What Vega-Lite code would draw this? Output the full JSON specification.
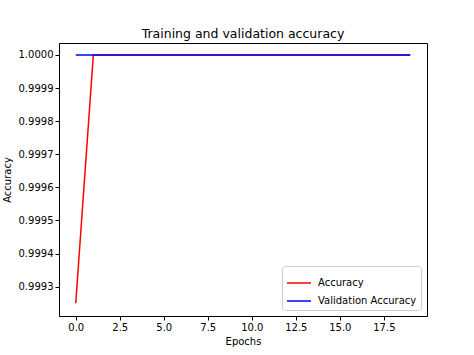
{
  "$schema": "https://vega.github.io/schema/vega-lite/v6.json",
  "autosize": {"type": "none"},
  "width": 368,
  "height": 273,
  "padding": {"left": 59, "top": 43, "right": 47, "bottom": 39},
  "background": "white",
  "title": {"text": "Training and validation accuracy", "font": "DejaVu Sans", "fontSize": 12.5, "fontWeight": "normal", "color": "black", "offset": 3},
  "config": {
    "view": {"stroke": "black", "strokeWidth": 1},
    "axis": {"labelFont": "DejaVu Sans", "titleFont": "DejaVu Sans", "labelFontSize": 10, "titleFontSize": 10, "titleFontWeight": "normal", "labelColor": "black", "titleColor": "black", "tickColor": "black", "domainColor": "black", "grid": false, "tickSize": 4}
  },
  "data": {"values": [
    {"epoch": 0, "value": 0.99925, "series": "Accuracy"},
    {"epoch": 1, "value": 1.0, "series": "Accuracy"},
    {"epoch": 2, "value": 1.0, "series": "Accuracy"},
    {"epoch": 3, "value": 1.0, "series": "Accuracy"},
    {"epoch": 4, "value": 1.0, "series": "Accuracy"},
    {"epoch": 5, "value": 1.0, "series": "Accuracy"},
    {"epoch": 6, "value": 1.0, "series": "Accuracy"},
    {"epoch": 7, "value": 1.0, "series": "Accuracy"},
    {"epoch": 8, "value": 1.0, "series": "Accuracy"},
    {"epoch": 9, "value": 1.0, "series": "Accuracy"},
    {"epoch": 10, "value": 1.0, "series": "Accuracy"},
    {"epoch": 11, "value": 1.0, "series": "Accuracy"},
    {"epoch": 12, "value": 1.0, "series": "Accuracy"},
    {"epoch": 13, "value": 1.0, "series": "Accuracy"},
    {"epoch": 14, "value": 1.0, "series": "Accuracy"},
    {"epoch": 15, "value": 1.0, "series": "Accuracy"},
    {"epoch": 16, "value": 1.0, "series": "Accuracy"},
    {"epoch": 17, "value": 1.0, "series": "Accuracy"},
    {"epoch": 18, "value": 1.0, "series": "Accuracy"},
    {"epoch": 19, "value": 1.0, "series": "Accuracy"},
    {"epoch": 0, "value": 1.0, "series": "Validation Accuracy"},
    {"epoch": 1, "value": 1.0, "series": "Validation Accuracy"},
    {"epoch": 2, "value": 1.0, "series": "Validation Accuracy"},
    {"epoch": 3, "value": 1.0, "series": "Validation Accuracy"},
    {"epoch": 4, "value": 1.0, "series": "Validation Accuracy"},
    {"epoch": 5, "value": 1.0, "series": "Validation Accuracy"},
    {"epoch": 6, "value": 1.0, "series": "Validation Accuracy"},
    {"epoch": 7, "value": 1.0, "series": "Validation Accuracy"},
    {"epoch": 8, "value": 1.0, "series": "Validation Accuracy"},
    {"epoch": 9, "value": 1.0, "series": "Validation Accuracy"},
    {"epoch": 10, "value": 1.0, "series": "Validation Accuracy"},
    {"epoch": 11, "value": 1.0, "series": "Validation Accuracy"},
    {"epoch": 12, "value": 1.0, "series": "Validation Accuracy"},
    {"epoch": 13, "value": 1.0, "series": "Validation Accuracy"},
    {"epoch": 14, "value": 1.0, "series": "Validation Accuracy"},
    {"epoch": 15, "value": 1.0, "series": "Validation Accuracy"},
    {"epoch": 16, "value": 1.0, "series": "Validation Accuracy"},
    {"epoch": 17, "value": 1.0, "series": "Validation Accuracy"},
    {"epoch": 18, "value": 1.0, "series": "Validation Accuracy"},
    {"epoch": 19, "value": 1.0, "series": "Validation Accuracy"}
  ]},
  "mark": {"type": "line", "strokeWidth": 1.5, "clip": true},
  "encoding": {
    "x": {"field": "epoch", "type": "quantitative", "title": "Epochs",
      "scale": {"domain": [-0.95, 19.95], "nice": false, "zero": false},
      "axis": {"values": [0, 2.5, 5, 7.5, 10, 12.5, 15, 17.5], "format": ".1f", "titleY": 20, "labelPadding": 2}},
    "y": {"field": "value", "type": "quantitative", "title": "Accuracy",
      "scale": {"domain": [0.9992115, 1.0000362], "nice": false, "zero": false},
      "axis": {"values": [0.9993, 0.9994, 0.9995, 0.9996, 0.9997, 0.9998, 0.9999, 1.0], "format": ".4f", "titleX": -47, "labelPadding": 2}},
    "color": {"field": "series", "type": "nominal",
      "scale": {"domain": ["Accuracy", "Validation Accuracy"], "range": ["red", "blue"]},
      "legend": {"title": null, "orient": "bottom-right", "offset": 6, "symbolType": "stroke", "symbolSize": 576, "symbolStrokeWidth": 1.5, "labelFont": "DejaVu Sans", "labelFontSize": 10, "labelColor": "black", "strokeColor": "#cccccc", "fillColor": "white", "padding": 4, "cornerRadius": 3, "rowPadding": -10, "labelOffset": 6}}
  }
}
